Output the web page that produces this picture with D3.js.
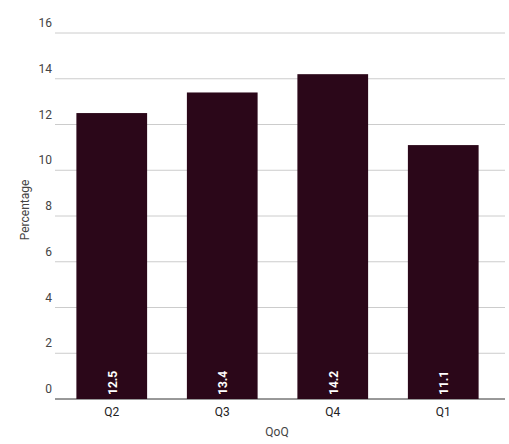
<!DOCTYPE html><html><head><script src="https://cdn.jsdelivr.net/npm/d3@7"></script>
<style>body{margin:0;background:#fff}text{font-family:Roboto,sans-serif}</style></head><body>
<svg id="c" width="509" height="444"></svg>
<script>
const categories=["Q2","Q3","Q4","Q1"];
const values=[12.5,13.4,14.2,11.1];
const yTicks=[0,2,4,6,8,10,12,14,16];
const svg=d3.select("#c");
const x=d3.scaleBand().domain(categories).range([56.5,498.5]).paddingInner(0.36).paddingOuter(0.18);
const y=d3.scaleLinear().domain([0,16]).range([399,33]);
svg.append("g").selectAll("line").data(yTicks).join("line")
 .attr("x1",55).attr("x2",505).attr("y1",d=>y(d)).attr("y2",d=>y(d))
 .attr("stroke",d=>d===0?"#333":"#ccc").attr("stroke-width",1);
svg.append("g").selectAll("text").data(yTicks).join("text")
 .attr("x",52).attr("y",d=>y(d)-6).attr("text-anchor","end").attr("font-size",12).attr("fill","#444").text(d=>d);
svg.append("g").selectAll("rect").data(values).join("rect")
 .attr("x",(d,i)=>x(categories[i])).attr("width",x.bandwidth())
 .attr("y",d=>y(d)).attr("height",d=>y(0)-y(d)).attr("fill","#2b0719");
svg.append("g").selectAll("text").data(values).join("text")
 .attr("transform",(d,i)=>`translate(${x(categories[i])+x.bandwidth()/2+5},${y(0)-4}) rotate(-90)`)
 .attr("font-size",12).attr("font-weight","bold").attr("fill","#fff").text(d=>d);
svg.append("g").selectAll("text").data(categories).join("text")
 .attr("x",d=>x(d)+x.bandwidth()/2).attr("y",416).attr("text-anchor","middle").attr("font-size",12).attr("fill","#222").text(d=>d);
svg.append("text").attr("x",277).attr("y",436).attr("text-anchor","middle").attr("font-size",12).attr("fill","#444").text("QoQ");
svg.append("text").attr("transform","translate(29,210) rotate(-90)").attr("text-anchor","middle").attr("font-size",12).attr("fill","#444").text("Percentage");
</script></body></html>
